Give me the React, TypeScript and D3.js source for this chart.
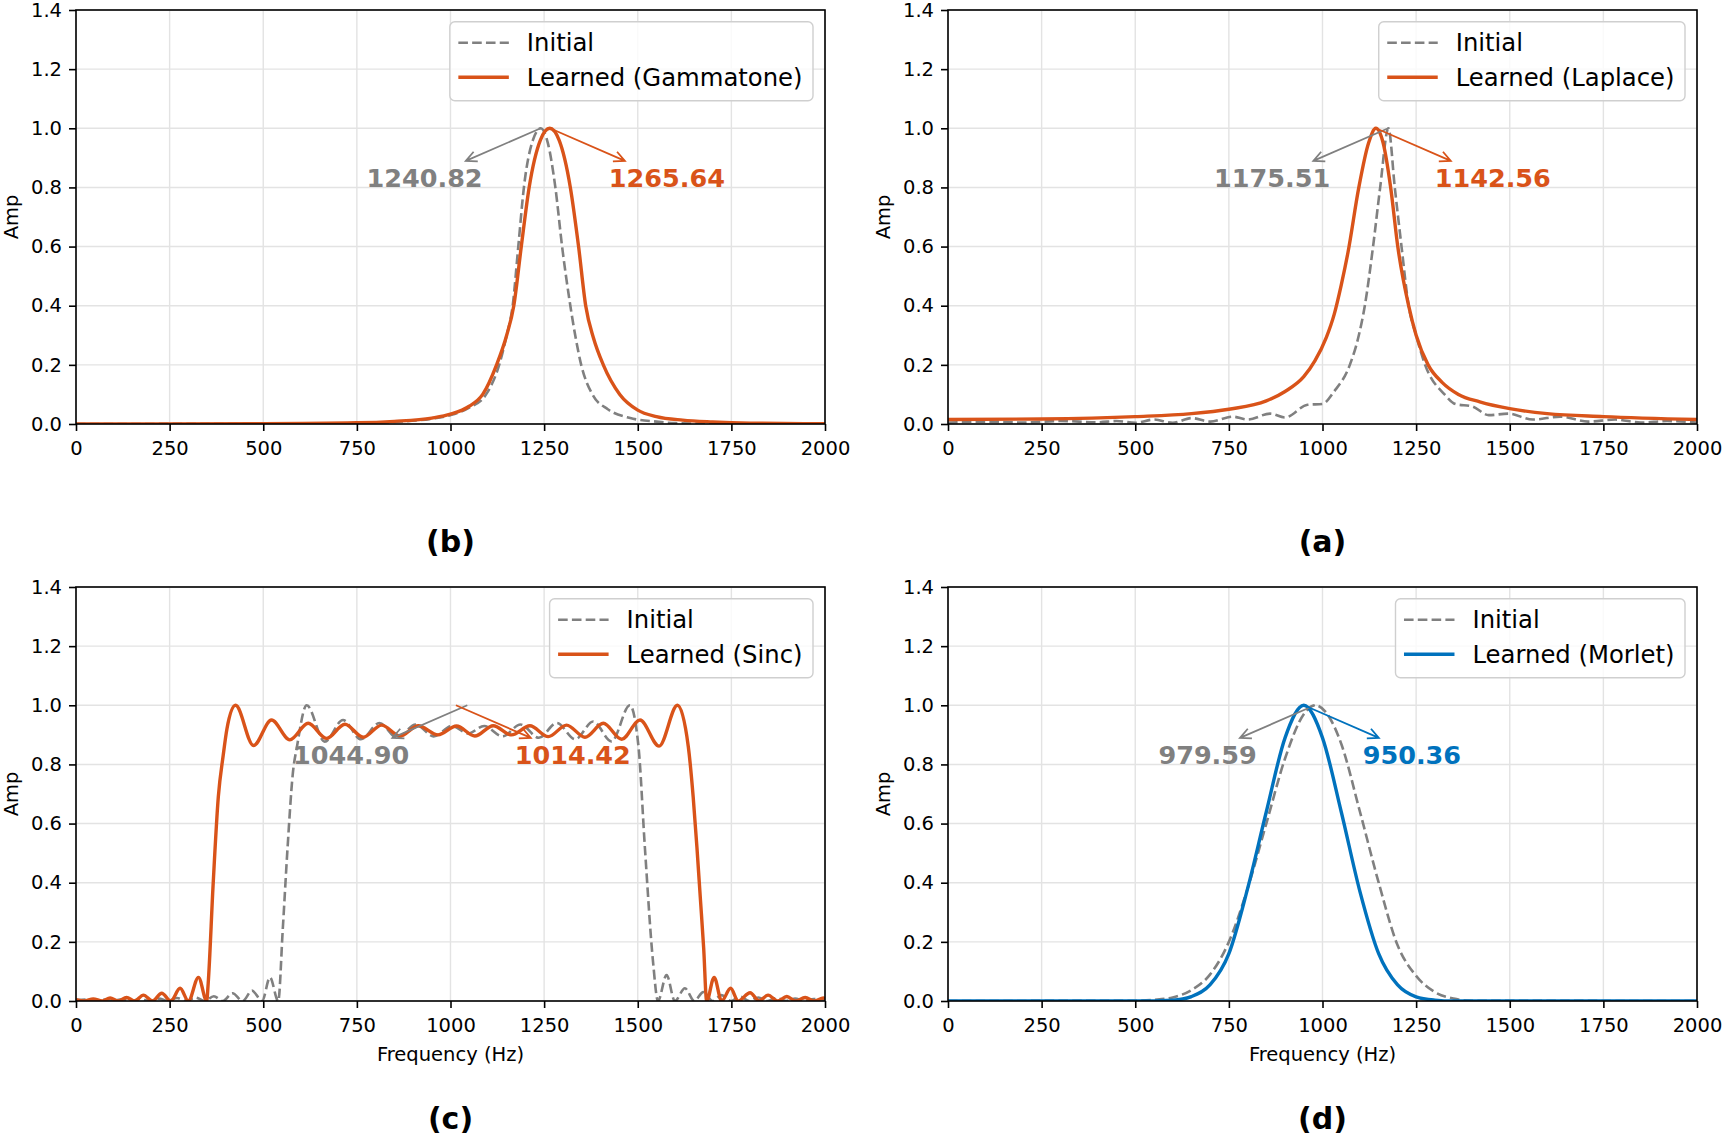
import * as d3 from "d3";
import { useEffect, useRef } from "react";

type Pt = [number, number];

const W = 1725;
const H = 1137;

const ORANGE = "#D95319";
const BLUE = "#0072BD";
const GRAY = "#808080";
const GRID = "#e3e3e3";
const FONT = "DejaVu Sans";

const FREQ_TICKS = [0, 250, 500, 750, 1000, 1250, 1500, 1750, 2000];
const AMP_TICKS = [0, 0.2, 0.4, 0.6, 0.8, 1.0, 1.2, 1.4];

// (b) gammatone
const gammatoneInitial: Pt[] = [
    [0, 0], [500, 0.001], [750, 0.003], [850, 0.007], [950, 0.018], [1000, 0.03], [1050, 0.055],
    [1095, 0.1], [1130, 0.2], [1150, 0.3], [1166, 0.4], [1181, 0.6], [1196, 0.8], [1220, 0.96],
    [1241, 1.0], [1260, 0.95], [1280, 0.8], [1298, 0.6], [1320, 0.4], [1333, 0.3], [1349, 0.2],
    [1379, 0.1], [1420, 0.05], [1480, 0.02], [1550, 0.008], [1600, 0.003], [1700, 0.001], [2000, 0],
];
const gammatoneLearned: Pt[] = [
    [0, 0], [500, 0.001], [750, 0.004], [850, 0.009], [950, 0.02], [1000, 0.033], [1050, 0.06],
    [1086, 0.1], [1123, 0.2], [1150, 0.3], [1169, 0.4], [1189, 0.6], [1210, 0.8], [1240, 0.96],
    [1265, 1.0], [1290, 0.96], [1320, 0.8], [1342, 0.6], [1361, 0.4], [1382, 0.29], [1408, 0.2],
    [1452, 0.1], [1500, 0.047], [1550, 0.025], [1620, 0.013], [1700, 0.007], [1800, 0.003], [2000, 0.001],
];
const gammatonePeaks = [1240.82, 1265.64];

// (a) laplace
const laplaceInitial: Pt[] = [
    [0, 0.005], [100, 0.008], [200, 0.005], [300, 0.01], [400, 0.006], [450, 0.01], [500, 0.004],
    [550, 0.015], [600, 0.004], [650, 0.02], [700, 0.008], [760, 0.025], [800, 0.015], [860, 0.035],
    [900, 0.022], [960, 0.065], [1000, 0.068], [1031, 0.11], [1073, 0.2], [1097, 0.3], [1113, 0.4],
    [1135, 0.6], [1154, 0.8], [1176, 1.0], [1193, 0.8], [1211, 0.6], [1230, 0.4], [1250, 0.3],
    [1274, 0.2], [1326, 0.1], [1356, 0.067], [1399, 0.06], [1444, 0.03], [1496, 0.035], [1562, 0.015],
    [1635, 0.025], [1709, 0.008], [1782, 0.015], [1850, 0.005], [1920, 0.01], [2000, 0.005],
];
const laplaceLearned: Pt[] = [
    [0, 0.015], [250, 0.017], [500, 0.025], [650, 0.035], [750, 0.05], [850, 0.078], [900, 0.11],
    [950, 0.16], [980, 0.214], [1010, 0.292], [1031, 0.37], [1050, 0.47], [1068, 0.58], [1097, 0.8],
    [1123, 0.95], [1142.56, 1.0], [1162, 0.95], [1182, 0.8], [1201, 0.6], [1230, 0.4], [1250, 0.3],
    [1282, 0.2], [1320, 0.14], [1363, 0.1], [1420, 0.075], [1500, 0.052], [1600, 0.035], [1750, 0.025], [2000, 0.015],
];
const laplacePeaks = [1175.51, 1142.56];

// (c) sinc
const sincInitial: Pt[] = [
    [0, 0.003], [25, 0.005], [49, 0], [74, 0.005], [98, 0], [123, 0.006], [147, 0], [172, 0.007],
    [196, 0], [221, 0.008], [245, 0], [270, 0.01], [294, 0], [319, 0.012], [343, 0], [368, 0.016],
    [392, 0], [418, 0.026], [445, 0], [470, 0.035], [497, 0], [518, 0.08], [540, 0], [552, 0.24],
    [565, 0.52], [579, 0.77], [590, 0.86], [616, 1.0], [664, 0.877], [713, 0.95], [761, 0.885],
    [810, 0.94], [858, 0.89], [907, 0.935], [955, 0.895], [1004, 0.93], [1047, 0.905], [1090, 0.93],
    [1139, 0.895], [1187, 0.935], [1236, 0.89], [1284, 0.94], [1333, 0.885], [1381, 0.945],
    [1430, 0.878], [1479, 1.0], [1502, 0.86], [1519, 0.52], [1541, 0.13], [1554, 0], [1577, 0.088],
    [1599, 0], [1626, 0.043], [1651, 0], [1675, 0.03], [1700, 0], [1724, 0.02], [1749, 0],
    [1773, 0.015], [1798, 0], [1822, 0.012], [1847, 0], [1871, 0.01], [1896, 0], [1920, 0.008],
    [1945, 0], [1970, 0.007], [2000, 0.003],
];
const sincLearned: Pt[] = [
    [0, 0.005], [22, 0], [46, 0.007], [70, 0], [91, 0.01], [113, 0], [135, 0.012], [157, 0],
    [180, 0.02], [204, 0], [229, 0.026], [253, 0], [278, 0.043], [300, 0], [327, 0.08], [349, 0],
    [353, 0.06], [366, 0.39], [380, 0.69], [393, 0.83], [403, 0.92], [426, 1.0], [474, 0.864],
    [522, 0.95], [571, 0.883], [620, 0.939], [669, 0.888], [718, 0.936], [767, 0.892], [816, 0.933],
    [865, 0.896], [914, 0.931], [967, 0.9], [1016, 0.93], [1065, 0.896], [1114, 0.931], [1163, 0.9],
    [1212, 0.931], [1261, 0.894], [1310, 0.933], [1359, 0.892], [1408, 0.939], [1457, 0.885],
    [1506, 0.95], [1557, 0.862], [1606, 1.0], [1635, 0.86], [1648, 0.69], [1658, 0.52], [1667, 0.35],
    [1676, 0.18], [1684, 0], [1704, 0.08], [1724, 0], [1748, 0.043], [1768, 0], [1800, 0.028],
    [1824, 0], [1848, 0.02], [1873, 0], [1898, 0.015], [1922, 0], [1947, 0.012], [1971, 0],
    [1996, 0.01], [2000, 0.008],
];
const sincPeaks = [1044.9, 1014.42];

// (d) morlet
const morletInitial: Pt[] = [
    [0, 0], [500, 0.001], [550, 0.004], [600, 0.012], [650, 0.037], [700, 0.09], [750, 0.2],
    [800, 0.38], [850, 0.6], [900, 0.82], [950, 0.97], [980, 1.0], [1010, 0.975], [1050, 0.87],
    [1100, 0.64], [1150, 0.4], [1200, 0.19], [1250, 0.085], [1300, 0.03], [1350, 0.008],
    [1400, 0.001], [2000, 0],
];
const morletLearned: Pt[] = [
    [0, 0], [500, 0], [600, 0.003], [650, 0.015], [700, 0.055], [750, 0.16], [800, 0.38],
    [850, 0.64], [900, 0.89], [950, 1.0], [1000, 0.89], [1050, 0.64], [1100, 0.37], [1150, 0.16],
    [1200, 0.055], [1250, 0.014], [1300, 0.003], [1350, 0], [2000, 0],
];
const morletPeaks = [979.59, 950.36];

const PLOT_W = 749;
const PLOT_H = 414;
const COL_X = [76, 948];
const ROW_Y = [10, 587];

type Panel = {
    tag: string;
    col: number;
    row: number;
    learnedLabel: string;
    initial: Pt[];
    learned: Pt[];
    peaks: number[];
    color: string;
    xLabel: boolean;
};

const PANELS: Panel[] = [
    { tag: "(b)", col: 0, row: 0, learnedLabel: "Learned (Gammatone)", initial: gammatoneInitial, learned: gammatoneLearned, peaks: gammatonePeaks, color: ORANGE, xLabel: false },
    { tag: "(a)", col: 1, row: 0, learnedLabel: "Learned (Laplace)", initial: laplaceInitial, learned: laplaceLearned, peaks: laplacePeaks, color: ORANGE, xLabel: false },
    { tag: "(c)", col: 0, row: 1, learnedLabel: "Learned (Sinc)", initial: sincInitial, learned: sincLearned, peaks: sincPeaks, color: ORANGE, xLabel: true },
    { tag: "(d)", col: 1, row: 1, learnedLabel: "Learned (Morlet)", initial: morletInitial, learned: morletLearned, peaks: morletPeaks, color: BLUE, xLabel: true },
];

type Sel = d3.Selection<SVGGElement, unknown, null, undefined>;

function arrow(g: Sel, x1: number, y1: number, x2: number, y2: number, color: string) {
    const a = Math.atan2(y2 - y1, x2 - x1);
    const len = 12;
    const spread = 0.45;
    const h1 = [x2 - len * Math.cos(a - spread), y2 - len * Math.sin(a - spread)];
    const h2 = [x2 - len * Math.cos(a + spread), y2 - len * Math.sin(a + spread)];
    g.append("path")
        .attr("d", `M${x1},${y1}L${x2},${y2}M${h1[0]},${h1[1]}L${x2},${y2}L${h2[0]},${h2[1]}`)
        .attr("fill", "none")
        .attr("stroke", color)
        .attr("stroke-width", 1.8);
}

function drawPanel(root: d3.Selection<SVGSVGElement, unknown, null, undefined>, p: Panel, i: number) {
    const left = COL_X[p.col];
    const top = ROW_Y[p.row];
    const bottom = top + PLOT_H;
    const x = d3.scaleLinear().domain([0, 2000]).range([left, left + PLOT_W]);
    const y = d3.scaleLinear().domain([0, 1.4]).range([bottom, top]);

    const g = root.append("g") as unknown as Sel;

    // grid
    g.append("g")
        .selectAll("line")
        .data(FREQ_TICKS)
        .join("line")
        .attr("x1", (d) => x(d))
        .attr("x2", (d) => x(d))
        .attr("y1", top)
        .attr("y2", bottom)
        .attr("stroke", GRID)
        .attr("stroke-width", 1.4);
    g.append("g")
        .selectAll("line")
        .data(AMP_TICKS)
        .join("line")
        .attr("x1", left)
        .attr("x2", left + PLOT_W)
        .attr("y1", (d) => y(d))
        .attr("y2", (d) => y(d))
        .attr("stroke", GRID)
        .attr("stroke-width", 1.4);

    const clipId = `clip-${i}`;
    g.append("clipPath")
        .attr("id", clipId)
        .append("rect")
        .attr("x", left)
        .attr("y", top - 2)
        .attr("width", PLOT_W)
        .attr("height", PLOT_H + 2);

    const line = d3
        .line<Pt>()
        .x((d) => x(d[0]))
        .y((d) => y(d[1]))
        .curve(d3.curveMonotoneX);

    g.append("path")
        .attr("d", line(p.initial) ?? "")
        .attr("fill", "none")
        .attr("stroke", GRAY)
        .attr("stroke-width", 2.6)
        .attr("stroke-dasharray", "9.6,4.2")
        .attr("clip-path", `url(#${clipId})`);
    g.append("path")
        .attr("d", line(p.learned) ?? "")
        .attr("fill", "none")
        .attr("stroke", p.color)
        .attr("stroke-width", 3.4)
        .attr("stroke-linejoin", "round")
        .attr("clip-path", `url(#${clipId})`);

    // annotations
    const [pInit, pLearn] = p.peaks;
    arrow(g, x(pInit), y(1.0), x(pInit - 200), y(0.89), GRAY);
    arrow(g, x(pLearn), y(1.0), x(pLearn + 200), y(0.89), p.color);
    g.append("text")
        .attr("x", x(pInit - 155))
        .attr("y", y(0.802))
        .attr("text-anchor", "end")
        .attr("font-size", 25.5)
        .attr("font-weight", "bold")
        .attr("fill", GRAY)
        .text(pInit.toFixed(2));
    g.append("text")
        .attr("x", x(pLearn + 157))
        .attr("y", y(0.802))
        .attr("text-anchor", "start")
        .attr("font-size", 25.5)
        .attr("font-weight", "bold")
        .attr("fill", p.color)
        .text(pLearn.toFixed(2));

    // spines
    g.append("rect")
        .attr("x", left)
        .attr("y", top)
        .attr("width", PLOT_W)
        .attr("height", PLOT_H)
        .attr("fill", "none")
        .attr("stroke", "#000")
        .attr("stroke-width", 1.6);

    // axes
    const xAxis = g
        .append("g")
        .attr("transform", `translate(0,${bottom})`)
        .call(d3.axisBottom(x).tickValues(FREQ_TICKS).tickFormat(d3.format("d")).tickSize(7).tickPadding(10.5));
    const yAxis = g
        .append("g")
        .attr("transform", `translate(${left},0)`)
        .call(d3.axisLeft(y).tickValues(AMP_TICKS).tickFormat(d3.format(".1f")).tickSize(7).tickPadding(7));
    [xAxis, yAxis].forEach((ax) => {
        ax.select(".domain").remove();
        ax.attr("font-family", FONT).attr("font-size", 19.5);
        ax.selectAll("line").attr("stroke", "#000").attr("stroke-width", 1.6);
        ax.selectAll("text").attr("fill", "#000");
    });

    g.append("text")
        .attr("transform", `translate(${left - 58.5},${top + PLOT_H / 2}) rotate(-90)`)
        .attr("text-anchor", "middle")
        .attr("font-size", 19.5)
        .attr("fill", "#000")
        .text("Amp");

    if (p.xLabel) {
        g.append("text")
            .attr("x", left + PLOT_W / 2)
            .attr("y", bottom + 60)
            .attr("text-anchor", "middle")
            .attr("font-size", 19.5)
            .attr("fill", "#000")
            .text("Frequency (Hz)");
    }

    // legend
    const lg = g.append("g");
    const t1 = lg.append("text").attr("font-size", 24.3).attr("dominant-baseline", "central").attr("fill", "#000").text("Initial");
    const t2 = lg.append("text").attr("font-size", 24.3).attr("dominant-baseline", "central").attr("fill", "#000").text(p.learnedLabel);
    const tw = Math.max((t1.node() as SVGTextElement).getComputedTextLength(), (t2.node() as SVGTextElement).getComputedTextLength());
    const textOff = 77;
    const boxW = textOff + tw + 10.5;
    const bx = left + PLOT_W - 12 - boxW;
    const by = top + 11.8;
    t1.attr("x", bx + textOff).attr("y", by + 21);
    t2.attr("x", bx + textOff).attr("y", by + 55.5);
    lg.insert("rect", ":first-child")
        .attr("x", bx)
        .attr("y", by)
        .attr("width", boxW)
        .attr("height", 79)
        .attr("rx", 5)
        .attr("fill", "#fff")
        .attr("fill-opacity", 0.8)
        .attr("stroke", "#cfcfcf")
        .attr("stroke-width", 1.4);
    lg.append("line")
        .attr("x1", bx + 8.5)
        .attr("x2", bx + 59)
        .attr("y1", by + 21)
        .attr("y2", by + 21)
        .attr("stroke", GRAY)
        .attr("stroke-width", 2.6)
        .attr("stroke-dasharray", "9.6,4.2");
    lg.append("line")
        .attr("x1", bx + 8.5)
        .attr("x2", bx + 59)
        .attr("y1", by + 55.5)
        .attr("y2", by + 55.5)
        .attr("stroke", p.color)
        .attr("stroke-width", 3.4);

    // panel tag
    g.append("text")
        .attr("x", left + PLOT_W / 2)
        .attr("y", bottom + 117)
        .attr("text-anchor", "middle")
        .attr("dominant-baseline", "central")
        .attr("font-size", 30)
        .attr("font-weight", "bold")
        .attr("fill", "#000")
        .text(p.tag);
}

export default function App() {
    const svgRef = useRef<SVGSVGElement | null>(null);

    useEffect(() => {
        if (!svgRef.current) return;
        const svg = d3.select(svgRef.current);
        svg.selectAll("*").remove();
        PANELS.forEach((p, i) => drawPanel(svg, p, i));
        return () => {
            svg.selectAll("*").remove();
        };
    }, []);

    return (
        <div style={{ position: "absolute", left: 0, top: 0 }}>
            <svg
                ref={svgRef}
                width={W}
                height={H}
                fontFamily={FONT}
                style={{ display: "block", background: "#fff" }}
            />
        </div>
    );
}
